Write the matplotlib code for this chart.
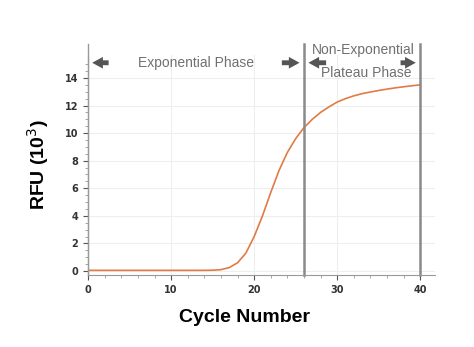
import matplotlib.pyplot as plt
import numpy as np

# qPCR amplification curve
cycles = np.arange(0, 41)
rfu = [0.05] * 15 + [0.06, 0.1, 0.25, 0.6, 1.3, 2.5, 4.0, 5.7, 7.3, 8.6, 9.6,
                     10.4, 11.0, 11.5, 11.9, 12.25, 12.5, 12.7, 12.86, 12.98,
                     13.09, 13.19, 13.28, 13.36, 13.43, 13.5]
phase_bounds = [26, 40]
x_ticks = [0, 10, 20, 30, 40]
y_ticks = [0, 2, 4, 6, 8, 10, 12, 14]

fig = plt.figure(figsize=(4.74, 3.47), dpi=100)
ax = fig.add_axes([0.186, 0.207, 0.732, 0.634])

ax.plot(cycles, rfu, color='#e07b45', lw=1.2)

for b in phase_bounds:
    ax.axvline(b, ymin=0, ymax=1.05, color='#8a8a8a', lw=1.8, clip_on=False)
ax.axvline(0, ymin=0, ymax=1.05, color='#999999', lw=1.0, clip_on=False)

ax.set_xlim(0, 41.8)
ax.set_ylim(-0.3, 15.65)
ax.set_xticks(x_ticks)
ax.set_yticks(y_ticks)
ax.set_xticks(np.arange(0, 42, 2), minor=True)
ax.set_yticks(np.arange(0, 15.5, 0.5), minor=True)
ax.tick_params(labelsize=7, colors='#555555', labelcolor='#333333')
ax.tick_params(which='minor', length=2, colors='#999999')
for lab in ax.get_xticklabels() + ax.get_yticklabels():
    lab.set_fontweight('bold')
ax.grid(True, color='#eeeeee', lw=0.8)
for s in ['top', 'right']:
    ax.spines[s].set_visible(False)
for s in ['left', 'bottom']:
    ax.spines[s].set_color('#999999')

ax.set_xlabel('Cycle Number', fontsize=14, fontweight='bold',
              family='Liberation Sans')
ax.xaxis.set_label_coords(0.45, -0.155)
ax.set_ylabel('RFU (10$^3$)', fontsize=14, fontweight='bold', labelpad=10,
              family='Liberation Sans')

# phase arrows and labels
arr = dict(arrowstyle='simple,head_width=0.6,head_length=0.55,tail_width=0.25',
           color='#555555', lw=0, mutation_scale=14)
yarr = 15.1
ax.annotate('', xy=(0.15, yarr), xytext=(2.8, yarr), arrowprops=arr, annotation_clip=False)
ax.annotate('', xy=(25.8, yarr), xytext=(23.0, yarr), arrowprops=arr, annotation_clip=False)
ax.annotate('', xy=(26.2, yarr), xytext=(29.0, yarr), arrowprops=arr, annotation_clip=False)
ax.annotate('', xy=(39.8, yarr), xytext=(37.3, yarr), arrowprops=arr, annotation_clip=False)
tf = dict(fontsize=10, color='#707070', family='Liberation Sans')
ax.text(13, yarr, 'Exponential Phase', ha='center', va='center', **tf)
ax.text(33.1, 16.0, 'Non-Exponential', ha='center', va='center', **tf)
ax.text(33.5, 14.35, 'Plateau Phase', ha='center', va='center', **tf)

fig.savefig('out.png', dpi=100)
